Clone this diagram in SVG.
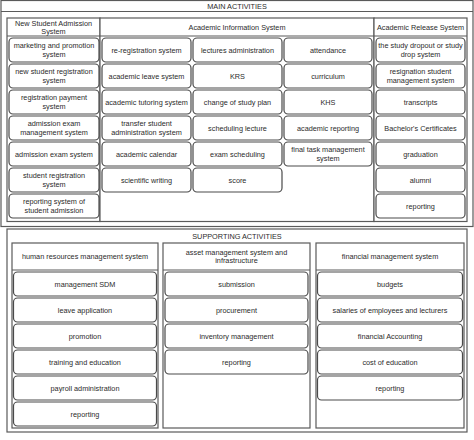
<svg xmlns="http://www.w3.org/2000/svg" width="474" height="440" viewBox="0 0 474 440">
<style>
.frame{fill:#fff;stroke:#5a5a5a;stroke-width:1.2}
.item{fill:#fff;stroke:#4a4a4a;stroke-width:1.2}
.sep{stroke:#5a5a5a;stroke-width:1.2;fill:none}
text{font-family:"Liberation Sans",Arial,Helvetica,sans-serif;font-size:7.3px;fill:#2b2b2b;text-anchor:middle}
</style>
<rect width="474" height="440" fill="#fff"/>
<!-- MAIN ACTIVITIES -->
<g id="main-activities">
<rect class="frame" x="1" y="0.5" width="472" height="226"/>
<line class="sep" x1="1" y1="11.5" x2="473" y2="11.5"/>
<text x="237" y="8.6">MAIN ACTIVITIES</text>
</g>
<g id="col-admission">
<rect class="frame" x="7" y="18" width="93" height="203.5"/>
<line class="sep" x1="7" y1="36" x2="100" y2="36"/>
<text x="53.5" y="25.6">New Student Admission</text><text x="53.5" y="34">System</text>
</g>
<g id="col-academic">
<rect class="frame" x="100" y="18" width="274" height="203.5"/>
<line class="sep" x1="100" y1="36" x2="374" y2="36"/>
<text x="237" y="29.6">Academic Information System</text>
</g>
<g id="col-release">
<rect class="frame" x="374" y="18" width="93" height="203.5"/>
<line class="sep" x1="374" y1="36" x2="467" y2="36"/>
<text x="420.5" y="29.6">Academic Release System</text>
</g>
<!-- admission items -->
<g id="a1"><rect class="item" x="9" y="38" width="90" height="24" rx="4"/><text x="54" y="48.4">marketing and promotion</text><text x="54" y="56.8">system</text></g>
<g id="a2"><rect class="item" x="9" y="64" width="90" height="24" rx="4"/><text x="54" y="74.4">new student registration</text><text x="54" y="82.8">system</text></g>
<g id="a3"><rect class="item" x="9" y="90" width="90" height="24" rx="4"/><text x="54" y="100.4">registration payment</text><text x="54" y="108.8">system</text></g>
<g id="a4"><rect class="item" x="9" y="116" width="90" height="24" rx="4"/><text x="54" y="126.4">admission exam</text><text x="54" y="134.8">management system</text></g>
<g id="a5"><rect class="item" x="9" y="142" width="90" height="24" rx="4"/><text x="54" y="156.6">admission exam system</text></g>
<g id="a6"><rect class="item" x="9" y="168" width="90" height="24" rx="4"/><text x="54" y="178.4">student registration</text><text x="54" y="186.8">system</text></g>
<g id="a7"><rect class="item" x="9" y="194" width="90" height="24" rx="4"/><text x="54" y="204.4">reporting system of</text><text x="54" y="212.8">student admission</text></g>
<!-- academic items col a -->
<g id="b1"><rect class="item" x="102" y="38" width="89" height="24" rx="4"/><text x="146.5" y="52.6">re-registration system</text></g>
<g id="b2"><rect class="item" x="102" y="64" width="89" height="24" rx="4"/><text x="146.5" y="78.6">academic leave system</text></g>
<g id="b3"><rect class="item" x="102" y="90" width="89" height="24" rx="4"/><text x="146.5" y="104.6">academic tutoring system</text></g>
<g id="b4"><rect class="item" x="102" y="116" width="89" height="24" rx="4"/><text x="146.5" y="126.4">transfer student</text><text x="146.5" y="134.8">administration system</text></g>
<g id="b5"><rect class="item" x="102" y="142" width="89" height="24" rx="4"/><text x="146.5" y="156.6">academic calendar</text></g>
<g id="b6"><rect class="item" x="102" y="168" width="89" height="24" rx="4"/><text x="146.5" y="182.6">scientific writing</text></g>
<!-- col b -->
<g id="c1"><rect class="item" x="193" y="38" width="89" height="24" rx="4"/><text x="237.5" y="52.6">lectures administration</text></g>
<g id="c2"><rect class="item" x="193" y="64" width="89" height="24" rx="4"/><text x="237.5" y="78.6">KRS</text></g>
<g id="c3"><rect class="item" x="193" y="90" width="89" height="24" rx="4"/><text x="237.5" y="104.6">change of study plan</text></g>
<g id="c4"><rect class="item" x="193" y="116" width="89" height="24" rx="4"/><text x="237.5" y="130.6">scheduling lecture</text></g>
<g id="c5"><rect class="item" x="193" y="142" width="89" height="24" rx="4"/><text x="237.5" y="156.6">exam scheduling</text></g>
<g id="c6"><rect class="item" x="193" y="168" width="89" height="24" rx="4"/><text x="237.5" y="182.6">score</text></g>
<!-- col c -->
<g id="d1"><rect class="item" x="284" y="38" width="88" height="24" rx="4"/><text x="328" y="52.6">attendance</text></g>
<g id="d2"><rect class="item" x="284" y="64" width="88" height="24" rx="4"/><text x="328" y="78.6">curriculum</text></g>
<g id="d3"><rect class="item" x="284" y="90" width="88" height="24" rx="4"/><text x="328" y="104.6">KHS</text></g>
<g id="d4"><rect class="item" x="284" y="116" width="88" height="24" rx="4"/><text x="328" y="130.6">academic reporting</text></g>
<g id="d5"><rect class="item" x="284" y="142" width="88" height="24" rx="4"/><text x="328" y="152.4">final task management</text><text x="328" y="160.8">system</text></g>
<!-- release items -->
<g id="e1"><rect class="item" x="376" y="38" width="89" height="24" rx="4"/><text x="420.5" y="48.4">the study dropout or study</text><text x="420.5" y="56.8">drop system</text></g>
<g id="e2"><rect class="item" x="376" y="64" width="89" height="24" rx="4"/><text x="420.5" y="74.4">resignation student</text><text x="420.5" y="82.8">management system</text></g>
<g id="e3"><rect class="item" x="376" y="90" width="89" height="24" rx="4"/><text x="420.5" y="104.6">transcripts</text></g>
<g id="e4"><rect class="item" x="376" y="116" width="89" height="24" rx="4"/><text x="420.5" y="130.6">Bachelor's Certificates</text></g>
<g id="e5"><rect class="item" x="376" y="142" width="89" height="24" rx="4"/><text x="420.5" y="156.6">graduation</text></g>
<g id="e6"><rect class="item" x="376" y="168" width="89" height="24" rx="4"/><text x="420.5" y="182.6">alumni</text></g>
<g id="e7"><rect class="item" x="376" y="194" width="89" height="24" rx="4"/><text x="420.5" y="208.6">reporting</text></g>
<!-- SUPPORTING ACTIVITIES -->
<g id="supporting-activities">
<rect class="frame" x="7" y="229" width="460" height="203"/>
<text x="237" y="238.6">SUPPORTING ACTIVITIES</text>
</g>
<g id="col-hr">
<rect class="frame" x="12" y="243" width="146" height="185"/>
<line class="sep" x1="12" y1="270" x2="158" y2="270"/>
<text x="85" y="259.1">human resources management system</text>
</g>
<g id="col-asset">
<rect class="frame" x="163" y="243" width="147" height="185"/>
<line class="sep" x1="163" y1="270" x2="310" y2="270"/>
<text x="236.5" y="254.9">asset management system and</text><text x="236.5" y="263.3">infrastructure</text>
</g>
<g id="col-fin">
<rect class="frame" x="316" y="243" width="148" height="185"/>
<line class="sep" x1="316" y1="270" x2="464" y2="270"/>
<text x="390" y="259.1">financial management system</text>
</g>
<g id="f1"><rect class="item" x="13.5" y="272" width="143" height="24" rx="4"/><text x="85" y="286.6">management SDM</text></g>
<g id="f2"><rect class="item" x="13.5" y="298" width="143" height="24" rx="4"/><text x="85" y="312.6">leave application</text></g>
<g id="f3"><rect class="item" x="13.5" y="324" width="143" height="24" rx="4"/><text x="85" y="338.6">promotion</text></g>
<g id="f4"><rect class="item" x="13.5" y="350" width="143" height="24" rx="4"/><text x="85" y="364.6">training and education</text></g>
<g id="f5"><rect class="item" x="13.5" y="376" width="143" height="24" rx="4"/><text x="85" y="390.6">payroll administration</text></g>
<g id="f6"><rect class="item" x="13.5" y="402" width="143" height="24" rx="4"/><text x="85" y="416.6">reporting</text></g>
<g id="g1"><rect class="item" x="165" y="272" width="143" height="24" rx="4"/><text x="236.5" y="286.6">submission</text></g>
<g id="g2"><rect class="item" x="165" y="298" width="143" height="24" rx="4"/><text x="236.5" y="312.6">procurement</text></g>
<g id="g3"><rect class="item" x="165" y="324" width="143" height="24" rx="4"/><text x="236.5" y="338.6">inventory management</text></g>
<g id="g4"><rect class="item" x="165" y="350" width="143" height="24" rx="4"/><text x="236.5" y="364.6">reporting</text></g>
<g id="h1"><rect class="item" x="317.5" y="272" width="145" height="24" rx="4"/><text x="390" y="286.6">budgets</text></g>
<g id="h2"><rect class="item" x="317.5" y="298" width="145" height="24" rx="4"/><text x="390" y="312.6">salaries of employees and lecturers</text></g>
<g id="h3"><rect class="item" x="317.5" y="324" width="145" height="24" rx="4"/><text x="390" y="338.6">financial Accounting</text></g>
<g id="h4"><rect class="item" x="317.5" y="350" width="145" height="24" rx="4"/><text x="390" y="364.6">cost of education</text></g>
<g id="h5"><rect class="item" x="317.5" y="376" width="145" height="24" rx="4"/><text x="390" y="390.6">reporting</text></g>
<g id="connectors"></g>
</svg>
